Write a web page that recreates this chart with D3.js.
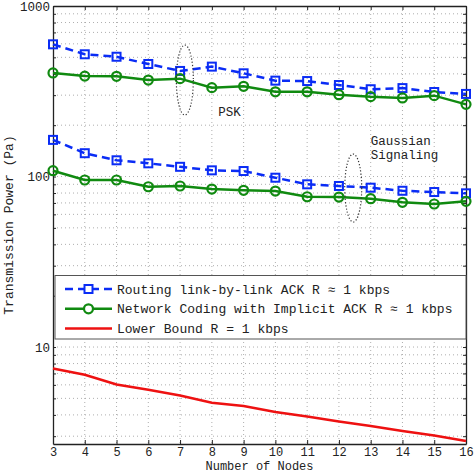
<!DOCTYPE html>
<html>
<head>
<meta charset="utf-8">
<script src="https://cdn.jsdelivr.net/npm/d3@7"></script>
<style>
  body { margin: 0; background: #fff; }
  svg text { font-family: "Liberation Mono", "DejaVu Sans Mono", monospace; fill: #222; }
</style>
</head>
<body>
<svg id="chart" width="474" height="474"></svg>
<script>
// node counts on the x axis
const nodes = [3, 4, 5, 6, 7, 8, 9, 10, 11, 12, 13, 14, 15, 16];

// PSK curves (upper group)
const routingPSK = [596, 521, 504, 457, 416, 441, 403, 365, 363, 344, 325, 330, 313, 305];
const codingPSK  = [405, 388, 387, 368, 375, 332, 338, 314, 314, 302, 294, 289, 298, 265];

// Gaussian signaling curves (lower group)
const routingGauss = [164, 137, 124.5, 119.5, 114, 108.7, 107.7, 98.4, 90, 88, 86, 82.5, 81.1, 79.7];
const codingGauss  = [108.2, 95.4, 95.4, 87.1, 88, 84.4, 83, 82.2, 76.1, 75.8, 74.1, 70.6, 69, 71.5];

// lower bound
const lowerBound = [7.49, 6.88, 6.03, 5.62, 5.2, 4.71, 4.51, 4.16, 3.92, 3.66, 3.44, 3.22, 3.03, 2.81];

const yTicks = [10, 100, 1000];
const legendLabels = [
    "Routing link-by-link ACK R \u2248 1 kbps",
    "Network Coding with Implicit ACK R \u2248 1 kbps",
    "Lower Bound R = 1 kbps"
];

const plotL = 53, plotR = 466, plotT = 6, plotB = 444;
const blue = "#0a2cf5", green = "#108a10", red = "#ee1111";

let svg = d3.select("#chart");

let x = d3.scaleLinear().domain([3, 16]).range([plotL, plotR]);
let y = d3.scaleLog().domain([2.7, 1000]).range([plotB, plotT]);

// minor grid values for the log axis
let gridVals = [];
[1, 10, 100].forEach(function(dec) {
    for (let k = 1; k <= 9; k++) {
        let v = dec * k;
        if (v >= 2.7 && v < 1000) gridVals.push(v);
    }
});

// grid (dotted)
let grid = svg.append("g").attr("stroke", "#999").attr("stroke-width", 0.8)
    .attr("stroke-dasharray", "1,3");
grid.selectAll(".gx").data(nodes.slice(1, -1)).enter().append("line")
    .attr("x1", d => x(d)).attr("x2", d => x(d))
    .attr("y1", plotT).attr("y2", plotB);
grid.selectAll(".gy").data(gridVals).enter().append("line")
    .attr("x1", plotL).attr("x2", plotR)
    .attr("y1", d => y(d)).attr("y2", d => y(d));

// axes box with inward ticks
let axisG = svg.append("g");
let xAxisG = axisG.append("g").attr("transform", "translate(0," + plotB + ")")
    .call(d3.axisBottom(x).tickValues(nodes).tickFormat(d3.format("d")).tickSizeInner(-4).tickSizeOuter(0));
axisG.append("g").attr("transform", "translate(0," + plotT + ")")
    .call(d3.axisTop(x).tickValues(nodes).tickFormat("").tickSizeInner(-4).tickSizeOuter(0));
axisG.append("g").attr("transform", "translate(" + plotL + ",0)")
    .call(d3.axisLeft(y).tickValues(gridVals.concat([1000])).tickFormat(d => yTicks.includes(d) ? d : "")
        .tickSizeInner(-3).tickSizeOuter(0));
axisG.append("g").attr("transform", "translate(" + plotR + ",0)")
    .call(d3.axisRight(y).tickValues(gridVals.concat([1000])).tickFormat("").tickSizeInner(-3).tickSizeOuter(0));
axisG.selectAll("path.domain").attr("stroke", "#222").attr("stroke-width", 1.3);
axisG.selectAll(".tick line").attr("stroke", "#222");
axisG.selectAll(".tick text").attr("font-family", "Liberation Mono").attr("font-size", 12.5).attr("fill", "#222");
xAxisG.selectAll(".tick text").attr("font-size", 12).attr("y", 3).attr("dy", "0.75em");

// series
let line = d3.line().x((d, i) => x(nodes[i])).y(d => y(d));

function drawSeries(vals, color, dashed, marker) {
    let g = svg.append("g");
    g.append("path").datum(vals)
        .attr("d", line)
        .attr("fill", "none")
        .attr("stroke", color)
        .attr("stroke-width", 2.5)
        .attr("stroke-dasharray", dashed ? "8,5" : null);
    if (marker === "square") {
        g.selectAll("rect").data(vals).enter().append("rect")
            .attr("x", (d, i) => x(nodes[i]) - 4).attr("y", d => y(d) - 4)
            .attr("width", 8).attr("height", 8)
            .attr("fill", "none").attr("stroke", color).attr("stroke-width", 2);
    } else if (marker === "circle") {
        g.selectAll("circle").data(vals).enter().append("circle")
            .attr("cx", (d, i) => x(nodes[i])).attr("cy", d => y(d))
            .attr("r", 4.5)
            .attr("fill", "none").attr("stroke", color).attr("stroke-width", 2.2);
    }
}

drawSeries(routingPSK, blue, true, "square");
drawSeries(codingPSK, green, false, "circle");
drawSeries(routingGauss, blue, true, "square");
drawSeries(codingGauss, green, false, "circle");
drawSeries(lowerBound, red, false, null);

// dotted ellipses marking the two groups
svg.append("ellipse")
    .attr("cx", x(7.15)).attr("cy", y(368)).attr("rx", 8.5).attr("ry", 35)
    .attr("fill", "none").attr("stroke", "#333").attr("stroke-width", 1.2).attr("stroke-dasharray", "1.2,2");
svg.append("ellipse")
    .attr("cx", x(12.45)).attr("cy", y(85.6)).attr("rx", 8.5).attr("ry", 34)
    .attr("fill", "none").attr("stroke", "#333").attr("stroke-width", 1.2).attr("stroke-dasharray", "1.2,2");

svg.append("text").attr("x", x(8.2)).attr("y", 116).attr("font-size", 12.5).text("PSK");
svg.append("text").attr("x", x(13)).attr("y", 145).attr("font-size", 12.5).text("Gaussian");
svg.append("text").attr("x", x(13)).attr("y", 159).attr("font-size", 12.5).text("Signaling");

// legend
let leg = svg.append("g");
leg.append("rect").attr("x", 55).attr("y", 275.5).attr("width", plotR - 55).attr("height", 63.5)
    .attr("fill", "#fff").attr("stroke", "#555").attr("stroke-width", 1);
let legRows = [
    {color: blue, dashed: true, marker: "square"},
    {color: green, dashed: false, marker: "circle"},
    {color: red, dashed: false, marker: null}
];
legRows.forEach(function(r, i) {
    let cy = 289 + i * 19.8;
    leg.append("line").attr("x1", 65).attr("x2", 112).attr("y1", cy).attr("y2", cy)
        .attr("stroke", r.color).attr("stroke-width", 2.5)
        .attr("stroke-dasharray", r.dashed ? "8,5" : null);
    if (r.marker === "square") {
        leg.append("rect").attr("x", 84.5).attr("y", cy - 4).attr("width", 8).attr("height", 8)
            .attr("fill", "#fff").attr("stroke", r.color).attr("stroke-width", 2);
    } else if (r.marker === "circle") {
        leg.append("circle").attr("cx", 88.5).attr("cy", cy).attr("r", 4.5)
            .attr("fill", "#fff").attr("stroke", r.color).attr("stroke-width", 2.2);
    }
    leg.append("text").attr("x", 117).attr("y", cy + 4.5).attr("font-size", 13).text(legendLabels[i]);
});

// axis labels
svg.append("text").attr("x", (plotL + plotR) / 2).attr("y", 470.2)
    .attr("text-anchor", "middle").attr("font-size", 12).text("Number of Nodes");
svg.append("text").attr("transform", "translate(13," + (plotT + plotB) / 2 + ") rotate(-90)")
    .attr("text-anchor", "middle").attr("font-size", 13).text("Transmission Power (Pa)");
</script>
</body>
</html>
